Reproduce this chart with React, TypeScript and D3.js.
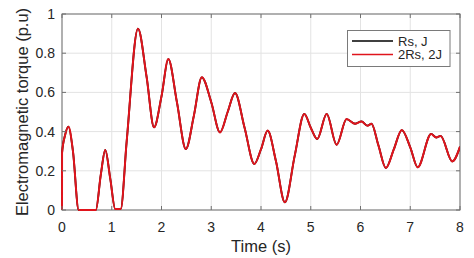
import React from "react";
import * as d3 from "d3";

const W = 474;
const H = 258;

const timeS: number[] = [
  0, 0.001, 0.06, 0.13, 0.22, 0.335, 0.68, 0.78, 0.87, 0.97, 1.07, 1.18, 1.3, 1.527, 1.7, 1.85,
  2.0, 2.137, 2.31, 2.49, 2.65, 2.81, 3.0, 3.176, 3.33, 3.477, 3.67, 3.866,
  4.0, 4.134, 4.3, 4.48, 4.68, 4.87, 5.0, 5.13, 5.32, 5.52, 5.72, 5.89,
  6.02, 6.14, 6.22, 6.36, 6.51, 6.67, 6.83, 7.0, 7.15, 7.42, 7.52, 7.61, 7.845, 8.0,
];
const torqueRsJ: number[] = [
  0, 0.29, 0.38, 0.425, 0.3, 0, 0, 0.18, 0.306, 0.16, 0.005, 0.005, 0.35, 0.925, 0.68, 0.422,
  0.58, 0.77, 0.55, 0.311, 0.48, 0.677, 0.55, 0.396, 0.5, 0.597, 0.42, 0.235,
  0.31, 0.405, 0.25, 0.039, 0.28, 0.49, 0.42, 0.362, 0.49, 0.333, 0.464, 0.44,
  0.452, 0.43, 0.44, 0.33, 0.214, 0.31, 0.408, 0.32, 0.218, 0.388, 0.37, 0.378, 0.248, 0.323,
];
const torque2Rs2J: number[] = torqueRsJ.slice();

const xTicks: number[] = [0, 1, 2, 3, 4, 5, 6, 7, 8];
const yTicks: number[] = [0, 0.2, 0.4, 0.6, 0.8, 1];
const seriesNames: string[] = ["Rs, J", "2Rs, 2J"];
const seriesColors: string[] = ["#000000", "#e0141c"];

export default function App() {
  const left = 62, right = 460, top = 14, bottom = 210;
  const x = d3.scaleLinear().domain([0, 8]).range([left, right]);
  const y = d3.scaleLinear().domain([0, 1]).range([bottom, top]);
  const line = d3
    .line<number>()
    .x((_, i) => x(timeS[i]))
    .y((d) => y(d))
    .curve(d3.curveMonotoneX);
  const series = [torqueRsJ, torque2Rs2J];
  const axisColor = "#707070";
  const font = "Arial, 'Liberation Sans', sans-serif";
  return (
    <svg width={W} height={H} style={{ position: "absolute", left: 0, top: 0 }} fontFamily={font}>
      <rect x={0} y={0} width={W} height={H} fill="#fff" />
      <defs>
        <clipPath id="plot">
          <rect x={left - 2} y={top - 2} width={right - left + 2} height={bottom - top + 4} />
        </clipPath>
      </defs>
      {xTicks.map((t) => (
        <line key={"gx" + t} x1={x(t)} x2={x(t)} y1={top} y2={bottom} stroke="#e3e3e3" strokeWidth={1} />
      ))}
      {yTicks.map((t) => (
        <line key={"gy" + t} x1={left} x2={right} y1={y(t)} y2={y(t)} stroke="#e3e3e3" strokeWidth={1} />
      ))}
      <rect x={left} y={top} width={right - left} height={bottom - top} fill="none" stroke={axisColor} strokeWidth={1} />
      <g clipPath="url(#plot)">
        {series.map((s, i) => (
          <path key={i} d={line(s) || ""} fill="none" stroke={seriesColors[i]} strokeWidth={i === 0 ? 1.8 : 2} />
        ))}
      </g>
      {xTicks.map((t) => (
        <g key={"tx" + t}>
          <line x1={x(t)} x2={x(t)} y1={bottom} y2={bottom - 4} stroke={axisColor} />
          <line x1={x(t)} x2={x(t)} y1={top} y2={top + 4} stroke={axisColor} />
          <text x={x(t)} y={232} textAnchor="middle" fontSize={14} fill="#262626">
            {t}
          </text>
        </g>
      ))}
      {yTicks.map((t) => (
        <g key={"ty" + t}>
          <line x1={left} x2={left + 4} y1={y(t)} y2={y(t)} stroke={axisColor} />
          <line x1={right} x2={right - 4} y1={y(t)} y2={y(t)} stroke={axisColor} />
          <text x={55} y={y(t) + 5} textAnchor="end" fontSize={14} fill="#262626">
            {t}
          </text>
        </g>
      ))}
      <text x={(left + right) / 2} y={252} textAnchor="middle" fontSize={16.5} fill="#262626">
        Time (s)
      </text>
      <text
        transform={`translate(28, ${(top + bottom) / 2}) rotate(-90)`}
        textAnchor="middle"
        fontSize={16.5}
        fill="#262626"
      >
        Electromagnetic torque (p.u)
      </text>
      <rect x={347.5} y={30.5} width={102.5} height={36} fill="#fff" stroke="#7a7a7a" strokeWidth={1} />
      {seriesNames.map((n, i) => (
        <g key={n}>
          <line x1={352} x2={393} y1={41 + i * 13.5} y2={41 + i * 13.5} stroke={seriesColors[i]} strokeWidth={1.6} />
          <text x={398} y={45.5 + i * 13.5} fontSize={13} fill="#262626">
            {n}
          </text>
        </g>
      ))}
    </svg>
  );
}
